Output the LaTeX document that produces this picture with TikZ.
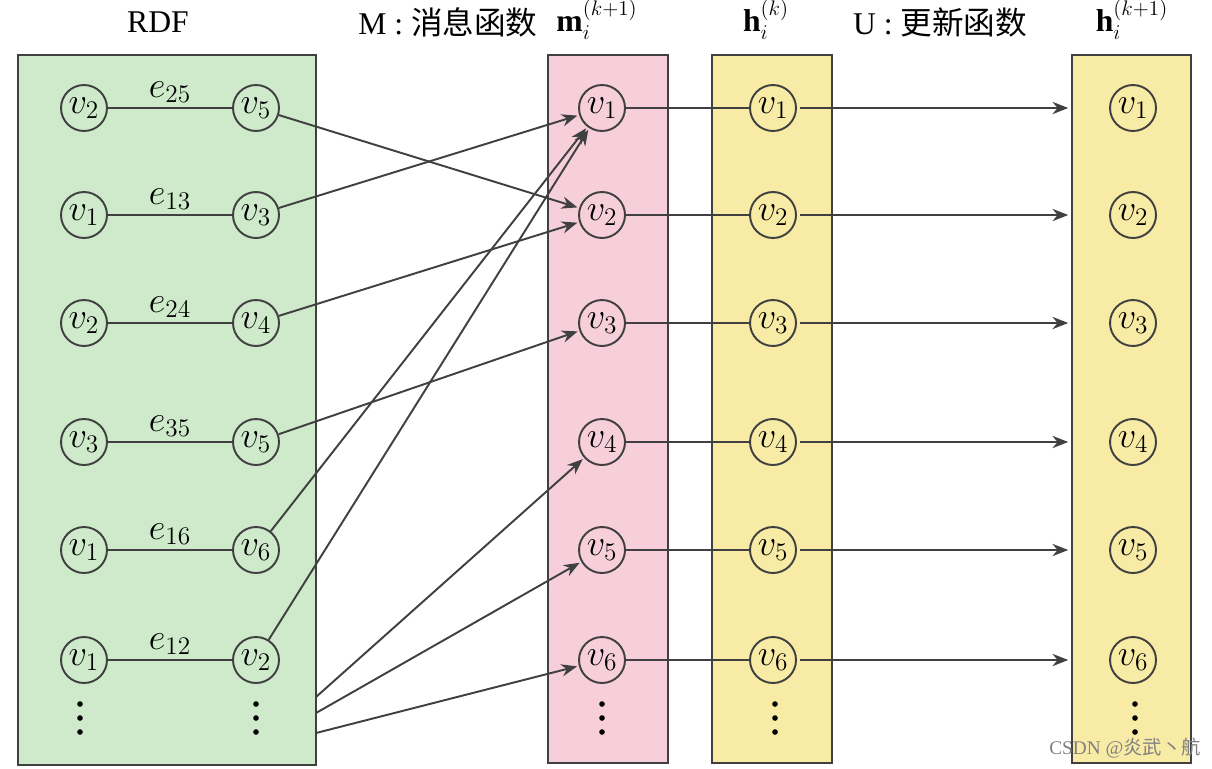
\documentclass[tikz,border=0pt]{standalone}
\usepackage{fontspec}
\setmainfont{Liberation Serif}
\newfontfamily\cjk{Noto Sans CJK SC}
\usepackage{amsmath}
\usetikzlibrary{positioning,arrows.meta}
\definecolor{rdfgreen}{HTML}{CEEACB}
\definecolor{msgpink}{HTML}{F6CFDA}
\definecolor{updyellow}{HTML}{F7EBA6}
\definecolor{linegray}{HTML}{404040}
\tikzset{
  vert/.style={circle, draw=linegray, line width=1.1pt, minimum size=0.92cm, inner sep=0pt, font=\fontsize{20}{22}\selectfont},
  panel/.style={draw=linegray, line width=0.6pt},
  link/.style={draw=linegray, line width=1.1pt},
  msg/.style={link, -{Stealth[length=9pt, width=7pt]}, shorten >=1pt},
  title/.style={font=\fontsize{18}{21}\selectfont},
  dot/.style={fill=black, circle, inner sep=0pt, minimum size=3.2pt}
}
\begin{document}
\begin{tikzpicture}[x=0.02cm, y=-0.02cm]
  \useasboundingbox (0,0) rectangle (1212,768);
  % columns
  \filldraw[panel, fill=rdfgreen]  (18,55)   rectangle (316,765);
  \filldraw[panel, fill=msgpink]   (548,55)  rectangle (668,763);
  \filldraw[panel, fill=updyellow] (712,55)  rectangle (832,763);
  \filldraw[panel, fill=updyellow] (1072,55) rectangle (1191,763);

  % titles
  \node[title] (tRDF) at (158,22) {RDF};
  \node[title] (tM) at (448,22) {M : {\cjk 消息函数}};
  \node[title] (tm) at (597,20) {$\mathbf{m}_i^{(k+1)}$};
  \node[title] (th) at (766,20) {$\mathbf{h}_i^{(k)}$};
  \node[title] (tU) at (940,22) {U : {\cjk 更新函数}};
  \node[title] (thn) at (1132,20) {$\mathbf{h}_i^{(k+1)}$};

  % RDF triples
  \foreach \i/\y/\s/\t in {1/108/2/5, 2/215/1/3, 3/323/2/4, 4/442/3/5, 5/550/1/6, 6/660/1/2} {
    \node[vert] (a\i) at (84,\y)  {$v_{\s}$};
    \node[vert] (b\i) at (256,\y) {$v_{\t}$};
    \draw[link] (a\i) -- node[above=-1pt, font=\fontsize{20}{22}\selectfont] {$e_{\s\t}$} (b\i);
  }

  % node columns
  \foreach \i/\y in {1/108, 2/215, 3/323, 4/442, 5/550, 6/660} {
    \node[vert] (m\i) at (602,\y)  {$v_{\i}$};
    \node[vert] (h\i) at (773,\y)  {$v_{\i}$};
    \node[vert] (u\i) at (1133,\y) {$v_{\i}$};
    \draw[link] (m\i) -- (h\i);
    \draw[msg] (h\i.east) ++(2pt,0) coordinate (s\i) -- (u\i.west -| 1070,0);
  }

  % dots
  \foreach \x in {80, 256, 602, 775, 1135}
    \foreach \y in {704, 718, 732}
      \node[dot] at (\x,\y) {};

  % messages
  \coordinate (o1) at (316,697);
  \coordinate (o2) at (316,713);
  \coordinate (o3) at (316,733);
  \draw[msg] (b1) -- (m2);
  \draw[msg] (b2) -- (m1);
  \draw[msg] (b3) -- (m2);
  \draw[msg] (b4) -- (m3);
  \draw[msg] (b5) -- (m1);
  \draw[msg] (b6) -- (m1);
  \draw[msg] (o1) -- (m4);
  \draw[msg] (o2) -- (m5);
  \draw[msg] (o3) -- (m6);

  \node[font=\fontsize{11}{12}\selectfont, text=gray] (wm) at (1125,748) {CSDN @{\cjk 炎武丶航}};
\end{tikzpicture}
\end{document}
